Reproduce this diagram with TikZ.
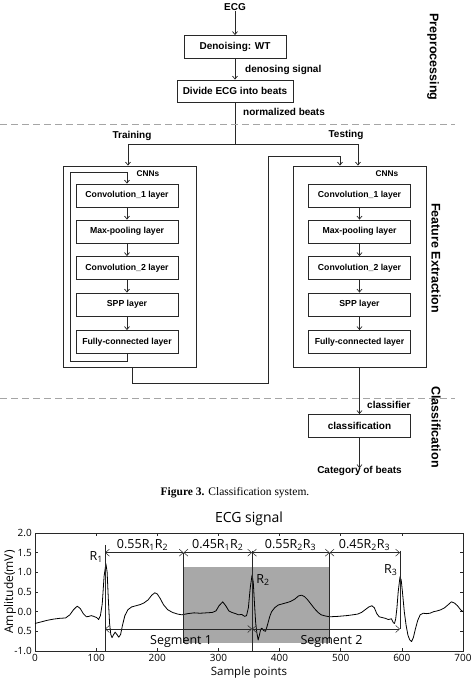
\documentclass[tikz,border=0pt]{standalone}
\usepackage{fontspec}
\setmainfont{Liberation Sans}
\newfontfamily\chartfont{Open Sans}
\newfontfamily\capfont{Liberation Serif}
\usetikzlibrary{arrows.meta}
\definecolor{ln}{RGB}{40,40,40}
\definecolor{sepgray}{RGB}{165,165,165}
\definecolor{grayfill}{RGB}{168,168,168}
\begin{document}
\begin{tikzpicture}[x=1pt,y=-1pt,
  box/.style={draw=ln, line width=0.9pt, minimum width=102pt, minimum height=23pt, inner sep=0pt, font=\fontsize{8.7}{10}\selectfont\bfseries},
  topbox/.style={box, font=\fontsize{10}{12}\selectfont\bfseries},
  big/.style={draw=ln, line width=0.9pt, inner sep=0pt, minimum width=133pt, minimum height=201pt},
  conn/.style={draw=ln, line width=0.7pt},
  arr/.style={conn, -{Straight Barb[length=3pt,width=5pt]}},
  lbl/.style={font=\fontsize{10}{12}\selectfont\bfseries, inner sep=0pt},
  smalllbl/.style={font=\fontsize{8.3}{10}\selectfont\bfseries, inner sep=0pt},
  side/.style={font=\fontsize{12.5}{14}\selectfont\bfseries, rotate=-90, inner sep=0pt},
  sepline/.style={draw=sepgray, line width=0.7pt, dash pattern=on 7pt off 4pt},
  dimline/.style={draw=ln, line width=0.5pt},
  barbs/.style={dimline, {Straight Barb[length=4pt,width=7pt]}-{Straight Barb[length=4pt,width=7pt]}},
  ctext/.style={font=\chartfont\fontsize{12.5}{14}\selectfont, inner sep=0pt},
  tick/.style={font=\chartfont\fontsize{10}{12}\selectfont, inner sep=0pt},
]
\useasboundingbox (0,0) rectangle (474,681);

% ---------------- flowchart ----------------
\node[lbl] (ecg) at (235,7) {ECG};
\node[topbox] (dn) at (235,47) {Denoising: WT};
\node[topbox, minimum width=116pt, minimum height=22pt] (div) at (235,91) {Divide ECG into beats};
\draw[arr] (ecg) -- (dn);
\draw[arr] (dn) -- (div);
\node[lbl, anchor=west] (dsig) at (245,70) {denosing signal};
\node[lbl, anchor=west] (nb) at (243,112) {normalized beats};

\node[big] (tr) at (129.5,266.5) {};
\node[big] (te) at (359.5,266.5) {};

\foreach \nm/\xx in {a/127, b/359.5}{
  \node[box] (c1\nm) at (\xx,195.5) {Convolution\_1 layer};
  \node[box] (mp\nm) at (\xx,231.5) {Max-pooling layer};
  \node[box] (c2\nm) at (\xx,268) {Convolution\_2 layer};
  \node[box] (spp\nm) at (\xx,304.5) {SPP layer};
  \node[box] (fc\nm) at (\xx,342) {Fully-connected layer};
  \draw[arr] (c1\nm) -- (mp\nm);
  \draw[arr] (mp\nm) -- (c2\nm);
  \draw[arr] (c2\nm) -- (spp\nm);
  \draw[arr] (spp\nm) -- (fc\nm);
}
\node[smalllbl] (cnna) at (148,174) {CNNs};
\node[smalllbl] (cnnb) at (387,174) {CNNs};

\coordinate (jm) at (235,144);
\coordinate (jl) at (128,144);
\coordinate (jr) at (358,144);
\draw[conn] (div.south) -- (jm);
\draw[arr] (jm) -- (jl) -- (jl |- tr.north);
\draw[arr] (jm) -- (jr) -- (jr |- te.north);
\node[lbl] (trl) at (132,136) {Training};
\node[lbl] (tel) at (346,135) {Testing};

% feedback loop inside training
\coordinate (lb) at (70,361);
\coordinate (lt) at (70,172);
\draw[arr] (fca.south) -- (fca.south |- lb) -- (lb) -- (lt) -- (lt -| c1a.north) -- (c1a.north);

% training output to testing
\coordinate (o1) at (132,383);
\coordinate (o2) at (268,383);
\coordinate (o3) at (268,156);
\coordinate (o4) at (340,156);
\draw[arr] (tr.south -| o1) -- (o1) -- (o2) -- (o3) -- (o4) -- (o4 |- te.north);

\node[topbox] (cls) at (359.5,426) {classification};
\draw[arr] (te.south) -- (cls.north);
\node[lbl, anchor=west] (clr) at (367,405) {classifier};
\node[lbl] (catl) at (359.5,471) {Category of beats};
\draw[arr] (cls.south) -- ([yshift=-2pt]catl.north);

\draw[sepline] (0,124) -- (455,124);
\draw[sepline] (0,398) -- (455,398);

\node[side] (pp) at (433,57) {Preprocessing};
\node[side] (fe) at (436,258) {Feature Extraction};
\node[side] (clsf) at (436,427) {Classification};

\node[font=\capfont\fontsize{11.5}{13}\selectfont, inner sep=0pt] (cap) at (235,493) {\textbf{Figure 3.} Classification system.};

% ---------------- ECG chart ----------------
\begin{scope}[shift={(35,611.66)}, x=0.6114pt, y=39.33pt]
  \fill[grayfill] (243,-0.8) rectangle (482,1.13);
  \draw[ln, line width=0.6pt] (0,-1) rectangle (700,2);
  \foreach \s in {100,200,300,400,500,600}{
    \draw[ln, line width=0.5pt] (\s,-1) -- ++(0,0.08) (\s,2) -- ++(0,-0.08);
  }
  \foreach \a in {-0.5,0,0.5,1,1.5}{
    \draw[ln, line width=0.5pt] (0,\a) -- ++(5,0) (700,\a) -- ++(-5,0);
  }
  \foreach \s in {0,100,200,300,400,500,600,700}{
    \node[tick, anchor=north] (xt\s) at (\s,-1.09) {\s};
  }
  \node[tick, anchor=east] (yt1) at (-5,2) {2.0};
  \node[tick, anchor=east] (yt2) at (-5,1.5) {1.5};
  \node[tick, anchor=east] (yt3) at (-5,1) {1.0};
  \node[tick, anchor=east] (yt4) at (-5,0.5) {0.5};
  \node[tick, anchor=east] (yt5) at (-5,0) {0.0};
  \node[tick, anchor=east] (yt6) at (-5,-0.5) {0.5};
  \node[tick, anchor=east] (yt7) at (-5,-1) {-1.0};
  \node[ctext, font=\chartfont\fontsize{14}{16}\selectfont] (ttl) at (350,2.37) {ECG signal};
  \node[ctext, font=\chartfont\fontsize{11.5}{13}\selectfont] (xl) at (350,-1.55) {Sample points};
  \node[ctext, font=\chartfont\fontsize{12}{14}\selectfont, rotate=90] (yl) at (-41,0.5) {Amplitude(mV)};

  \draw[black, line width=0.8pt, line join=round] plot coordinates {
  (0,-0.30) (10,-0.26) (20,-0.22) (30,-0.19) (40,-0.17) (50,-0.16) (57,-0.08) (63,0.05) (69,0.14) (74,0.08) (79,-0.05) (84,-0.13) (88,-0.12) (92,-0.10) (96,-0.12) (101,-0.15) (104,-0.20) (107,-0.10) (110,0.2) (113,0.9) (116,1.22) (118,1.0) (120,0.3) (122,-0.3) (124,-0.58) (126,-0.66) (128,-0.60) (131,-0.52) (134,-0.58) (137,-0.65) (140,-0.58) (143,-0.35) (147,-0.10) (152,0.05) (158,0.12) (165,0.15) (172,0.18) (178,0.22) (185,0.30) (191,0.42) (196,0.48) (200,0.45) (205,0.33) (210,0.18) (217,0.05) (225,-0.02) (233,-0.06) (240,-0.08) (250,-0.05) (260,-0.03) (270,-0.04) (280,-0.03) (290,-0.02) (296,0.02) (301,0.15) (307,0.25) (312,0.15) (317,0.02) (322,-0.02) (328,-0.05) (333,-0.08) (338,-0.07) (343,-0.12) (346,-0.10) (349,0.1) (352,0.6) (355,0.93) (357,0.75) (359,0.2) (361,-0.3) (363,-0.55) (365,-0.72) (367,-0.6) (369,-0.45) (371,-0.42) (374,-0.48) (377,-0.50) (380,-0.35) (384,-0.12) (387,0.0) (392,0.10) (398,0.17) (405,0.20) (412,0.23) (418,0.26) (425,0.32) (431,0.40) (436,0.42) (441,0.38) (446,0.30) (451,0.20) (457,0.08) (463,-0.02) (468,-0.08) (475,-0.11) (482,-0.13) (495,-0.12) (510,-0.10) (520,-0.08) (528,-0.06) (534,-0.02) (540,0.05) (546,0.12) (551,0.15) (555,0.10) (559,-0.05) (563,-0.13) (568,-0.15) (573,-0.17) (578,-0.20) (583,-0.18) (586,-0.28) (588,-0.30) (590,-0.18) (592,0.1) (594,0.5) (597,0.89) (599,0.8) (601,0.5) (604,0.0) (607,-0.35) (610,-0.6) (613,-0.72) (616,-0.76) (619,-0.65) (622,-0.45) (626,-0.22) (630,-0.08) (635,-0.04) (640,-0.05) (646,-0.04) (652,0.0) (658,0.02) (664,0.05) (670,0.10) (676,0.18) (681,0.25) (686,0.22) (691,0.15) (696,0.05) (700,0.0)
  };

  % marker lines
  \coordinate (r1t) at (114.5,1.7);  \coordinate (r1b) at (114.5,-1);
  \coordinate (m1t) at (243,1.5);    \coordinate (m1b) at (243,-0.8);
  \coordinate (r2t) at (355,1.55);   \coordinate (r2b) at (355,-1);
  \coordinate (m2t) at (482,1.5);    \coordinate (m2b) at (482,-0.8);
  \coordinate (r3t) at (597,1.55);   \coordinate (r3b) at (597,-0.45);
  \draw[dimline] (r1t) -- (r1b);
  \draw[dimline] (m1t) -- (m1b);
  \draw[dimline] (r2t) -- (r2b);
  \draw[dimline] (m2t) -- (m2b);
  \draw[dimline] (r3t) -- (r3b);

  \coordinate (d0) at (114.5,1.5);
  \coordinate (d1) at (243,1.5);
  \coordinate (d2) at (355,1.5);
  \coordinate (d3) at (482,1.5);
  \coordinate (d4) at (597,1.5);
  \draw[barbs] (d0) -- (d1);
  \draw[barbs] (d1) -- (d2);
  \draw[barbs] (d2) -- (d3);
  \draw[barbs] (d3) -- (d4);

  \coordinate (s0) at (114.5,-0.44);
  \coordinate (s1) at (355,-0.44);
  \coordinate (s2) at (597,-0.44);
  \draw[barbs] (s0) -- (s1);
  \draw[barbs] (s1) -- (s2);

  \node[ctext] (t1) at (176,1.69) {0.55R\textsubscript{1}R\textsubscript{2}};
  \node[ctext] (t2) at (299,1.69) {0.45R\textsubscript{1}R\textsubscript{2}};
  \node[ctext] (t3) at (418,1.69) {0.55R\textsubscript{2}R\textsubscript{3}};
  \node[ctext] (t4) at (539,1.69) {0.45R\textsubscript{2}R\textsubscript{3}};
  \node[ctext] (rr1) at (100,1.38) {R\textsubscript{1}};
  \node[ctext] (rr2) at (373,0.8) {R\textsubscript{2}};
  \node[ctext] (rr3) at (582,1.06) {R\textsubscript{3}};
  \node[ctext] (sg1) at (239,-0.75) {Segment 1};
  \node[ctext] (sg2) at (485,-0.75) {Segment 2};
\end{scope}
\end{tikzpicture}
\end{document}
